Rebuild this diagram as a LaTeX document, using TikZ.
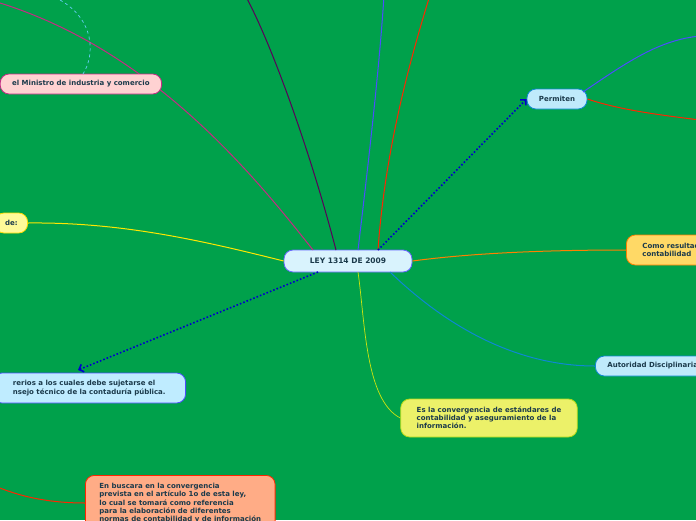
\documentclass[tikz,border=0pt]{standalone}
\usepackage{fontspec}
\setmainfont{DejaVu Sans}
\usetikzlibrary{arrows.meta}
\definecolor{bg}{HTML}{00A14B}
\definecolor{txt}{HTML}{1B3A4B}
\tikzset{
 box/.style={draw, rounded corners=9pt, line width=0.8pt, font=\bfseries\fontsize{7}{8.2}\selectfont, text=txt, inner xsep=14pt, inner ysep=4pt, align=left},
 dots/.style={draw=blue!80!black, line width=1.6pt, dotted, -{Straight Barb[length=4pt,width=8pt]}},
 ln/.style={line width=1pt},
}
\begin{document}
\begin{tikzpicture}[x=1pt,y=-1pt]
\useasboundingbox (0,0) rectangle (696,520);
\fill[bg] (0,0) rectangle (696,520);
\begin{scope}
\clip (0,0) rectangle (696,520);
\node[box, fill=cyan!15, draw=blue!60, font=\bfseries\fontsize{7.5}{9}\selectfont, minimum width=128pt, minimum height=22pt] (c) at (348,261) {LEY 1314 DE 2009};
\coordinate (t1) at (245,-5); \coordinate (t2) at (384,-5); \coordinate (t3) at (430,-5);
\coordinate (c1) at (336,250); \coordinate (c2) at (358,250); \coordinate (c3) at (378,250); \coordinate (c4) at (313,250);
\draw[violet!70!black, ln] (c1) .. controls (310,150) and (270,40) .. (t1);
\draw[blue!70, ln] (c2) .. controls (370,150) and (380,60) .. (t2);
\draw[red!70!orange, ln] (c3) .. controls (385,150) and (410,60) .. (t3);
\draw[magenta!80!black, ln] (c4) .. controls (250,170) and (150,50) .. (0,3);
\node[box, fill=pink!70, draw=magenta!80!black, anchor=east, minimum height=20pt, inner xsep=12pt] (m) at (162,84) {el Ministro de industria y comercio};
\draw[cyan!60, dashed, line width=0.7pt] (60,0) .. controls (95,20) and (95,55) .. (83,74);
\node[box, fill=yellow!40, draw=yellow!80!orange, anchor=east, minimum height=20pt, inner xsep=10pt] (d) at (28,223) {de:};
\draw[yellow!90!orange, ln] (c.west) .. controls (200,240) and (120,222) .. (d.east);
\node[box, fill=cyan!25, draw=cyan!70!blue, minimum height=20pt, inner xsep=12pt] (p) at (557,99) {Permiten};
\draw[dots] (c3) -- (p.west);
\draw[blue!70, ln] (583,92) .. controls (630,60) and (660,40) .. (700,36);
\draw[red!70!orange, ln] (p.east) .. controls (620,110) and (660,115) .. (700,120);
\node[box, fill=orange!50!yellow!60, draw=orange, anchor=west, minimum height=30pt, inner xsep=16pt] (r) at (626,250) {Como resultado de la\\contabilidad};
\draw[orange, ln] (c.east) .. controls (480,252) and (560,250) .. (r.west);
\node[box, fill=cyan!25, draw=cyan!70!blue, anchor=west, minimum height=20pt, inner xsep=12pt] (a) at (595,366) {Autoridad Disciplinaria};
\draw[cyan!70!blue, ln] (390,272) .. controls (450,330) and (520,366) .. (a.west);
\node[box, fill=yellow!50!lime!60, draw=yellow!70!green, minimum height=38pt, inner xsep=16pt] (e) at (489,418) {Es la convergencia de estándares de\\contabilidad y aseguramiento de la\\información.};
\draw[yellow!80!green, line width=0.7pt] (358,272) .. controls (365,320) and (365,400) .. (e.west);
\node[box, fill=blue!30!cyan!25, draw=blue!70, anchor=east, minimum height=30pt, inner xsep=20pt] (b) at (186,388) {rerios a los cuales debe sujetarse el\\nsejo técnico de la contaduría pública.};
\draw[dots] (318,272) -- (78,370);
\node[box, fill=orange!30!pink, draw=red!70!orange, anchor=north west, inner xsep=14pt, inner ysep=8pt] (f) at (85,475) {En buscara en la convergencia\\prevista en el artículo 1o de esta ley,\\lo cual se  tomará como referencia\\para la elaboración de diferentes\\normas de contabilidad y de información};
\draw[red!70!orange, ln] (0,488) .. controls (30,500) and (60,503) .. (85,503);
\end{scope}
\end{tikzpicture}
\end{document}
